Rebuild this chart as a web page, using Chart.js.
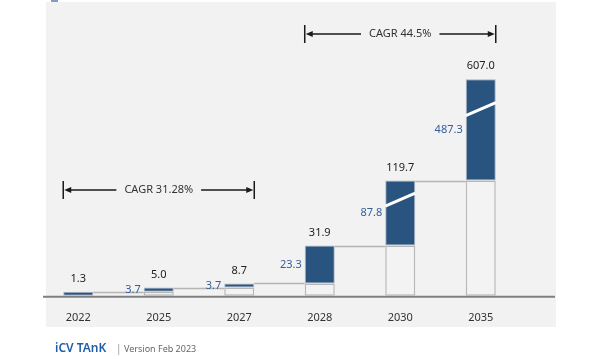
<!DOCTYPE html>
<html lang="en">
<head>
<meta charset="UTF-8">
<title>Market size waterfall</title>
<script src="https://cdn.jsdelivr.net/npm/chart.js"></script>
<style>
  body { margin: 0; background: #fff; }
  canvas { display: block; }
</style>
</head>
<body>
<canvas id="chart" width="600" height="359"></canvas>
<script>
// data
const years = ['2022', '2025', '2027', '2028', '2030', '2035'];
const totals = [1.3, 5.0, 8.7, 31.9, 119.7, 607.0];
const increments = [null, 3.7, 3.7, 23.3, 87.8, 487.3];
const cagrLabels = ['CAGR 31.28%', 'CAGR 44.5%'];
const cagrFrom = [0, 3];   // category index of the left end
const cagrTo = [2, 5];     // category index of the right end
const brokenBars = [4, 5]; // bars drawn with a scale break

// value axis with a broken (piecewise linear) scale
function toDecimal(v, breaks) {
  for (let i = 1; i < breaks.length; i++) {
    const a = breaks[i - 1], b = breaks[i];
    if (v <= b.value || i === breaks.length - 1) {
      return a.at + (v - a.value) / (b.value - a.value) * (b.at - a.at);
    }
  }
  return 0;
}
function fromDecimal(d, breaks) {
  for (let i = 1; i < breaks.length; i++) {
    const a = breaks[i - 1], b = breaks[i];
    if (d <= b.at || i === breaks.length - 1) {
      return a.value + (d - a.at) / (b.at - a.at) * (b.value - a.value);
    }
  }
  return 0;
}
class BrokenScale extends Chart.LinearScale {
  static id = 'broken';
  static defaults = Chart.LinearScale.defaults;
  getPixelForValue(value) {
    if (value === null || value === undefined || isNaN(value)) return NaN;
    return this.getPixelForDecimal(toDecimal(value, this.options.breaks));
  }
  getValueForPixel(pixel) {
    return fromDecimal(this.getDecimalForPixel(pixel), this.options.breaks);
  }
}
Chart.register(BrokenScale);

const baseData = totals.map((t, i) => i === 0 ? null : [0, totals[i - 1]]);
const stepData = totals.map((t, i) => i === 0 ? [0, t] : [totals[i - 1], t]);

const font = '"Noto Sans", "Open Sans", sans-serif';

function drawSpan(ctx, xL, xR, yMid, text) {
  ctx.save();
  ctx.font = '11px ' + font;
  const w = ctx.measureText(text).width;
  const cx = (xL + xR) / 2;
  ctx.strokeStyle = '#1a1a1a';
  ctx.fillStyle = '#1a1a1a';
  ctx.lineWidth = 1.5;
  ctx.beginPath();
  ctx.moveTo(xL, yMid - 9); ctx.lineTo(xL, yMid + 9);
  ctx.moveTo(xR, yMid - 9); ctx.lineTo(xR, yMid + 9);
  ctx.moveTo(cx - w / 2 - 8, yMid); ctx.lineTo(xL + 6, yMid);
  ctx.moveTo(cx + w / 2 + 8, yMid); ctx.lineTo(xR - 6, yMid);
  ctx.stroke();
  ctx.beginPath();
  ctx.moveTo(xL + 1, yMid); ctx.lineTo(xL + 8, yMid - 3); ctx.lineTo(xL + 8, yMid + 3); ctx.closePath();
  ctx.moveTo(xR - 1, yMid); ctx.lineTo(xR - 8, yMid - 3); ctx.lineTo(xR - 8, yMid + 3); ctx.closePath();
  ctx.fill();
  ctx.fillStyle = '#333';
  ctx.textAlign = 'center';
  ctx.textBaseline = 'middle';
  ctx.fillText(text, cx, yMid);
  ctx.restore();
}

const decorations = {
  id: 'decorations',
  beforeDraw(chart) {
    const ctx = chart.ctx;
    ctx.save();
    ctx.fillStyle = '#f2f2f2';
    ctx.fillRect(46, 2, 510, 325);
    ctx.fillStyle = '#7f9cc2';
    ctx.fillRect(51, 0, 7, 2);
    ctx.restore();
  },
  afterDatasetsDraw(chart) {
    const { ctx, chartArea, scales: { y } } = chart;
    const bars = chart.getDatasetMeta(1).data;
    ctx.save();

    // connectors between bars
    ctx.strokeStyle = '#b4b4b4';
    ctx.lineWidth = 1.5;
    ctx.beginPath();
    for (let i = 0; i < bars.length - 1; i++) {
      const py = Math.round(y.getPixelForValue(totals[i])) + 0.5;
      ctx.moveTo(bars[i].x + bars[i].width / 2, py);
      ctx.lineTo(bars[i + 1].x - bars[i + 1].width / 2, py);
    }
    ctx.stroke();

    // break slashes
    ctx.strokeStyle = '#ffffff';
    ctx.lineWidth = 3;
    brokenBars.forEach(i => {
      const b = bars[i];
      const mid = b.y + (b.base - b.y) * 0.3;
      ctx.beginPath();
      ctx.moveTo(b.x - b.width / 2, mid + 6);
      ctx.lineTo(b.x + b.width / 2, mid - 7);
      ctx.stroke();
    });

    // axis line
    ctx.strokeStyle = '#7f7f7f';
    ctx.lineWidth = 2;
    ctx.beginPath();
    ctx.moveTo(43, chartArea.bottom + 1);
    ctx.lineTo(555, chartArea.bottom + 1);
    ctx.stroke();

    // value labels
    ctx.font = '11px ' + font;
    ctx.textBaseline = 'middle';
    bars.forEach((b, i) => {
      ctx.fillStyle = '#222';
      ctx.textAlign = 'center';
      ctx.fillText(totals[i].toFixed(1), b.x, b.y - 13);
      if (increments[i] !== null) {
        ctx.fillStyle = '#35609a';
        ctx.textAlign = 'right';
        ctx.fillText(increments[i].toFixed(1), b.x - b.width / 2 - 3, (b.y + b.base) / 2);
      }
    });

    // CAGR spans
    const spanY = [190, 34];
    cagrLabels.forEach((label, k) => {
      const l = bars[cagrFrom[k]], r = bars[cagrTo[k]];
      drawSpan(ctx, l.x - l.width / 2, r.x + r.width / 2, spanY[k], label);
    });

    // footer
    ctx.textAlign = 'left';
    ctx.fillStyle = '#1d5ea8';
    ctx.font = '600 12px ' + font;
    ctx.fillText('iCV TAnK', 55, 349);
    ctx.fillStyle = '#999';
    ctx.font = '10px ' + font;
    ctx.fillText('|', 116, 349);
    ctx.fillStyle = '#666';
    ctx.font = '9px ' + font;
    ctx.fillText('Version Feb 2023', 124, 349);
    ctx.restore();
  }
};

new Chart(document.getElementById('chart'), {
  type: 'bar',
  data: {
    labels: years,
    datasets: [
      {
        label: 'base',
        data: baseData,
        backgroundColor: '#f3f3f3',
        borderColor: '#b8b8b8',
        borderWidth: 1.5,
        borderSkipped: false,
        grouped: false
      },
      {
        label: 'increase',
        data: stepData,
        backgroundColor: '#2a5480',
        borderColor: '#a9b4c0',
        borderWidth: 1,
        borderSkipped: false,
        grouped: false
      }
    ]
  },
  options: {
    responsive: false,
    animation: false,
    layout: { padding: { left: 38, right: 79, top: 20, bottom: 20 } },
    plugins: { legend: { display: false }, tooltip: { enabled: false } },
    datasets: { bar: { categoryPercentage: 1, barPercentage: 0.373 } },
    scales: {
      x: {
        grid: { display: false, drawTicks: false },
        border: { display: false },
        ticks: { color: '#333', font: { family: font, size: 11 }, padding: 15 }
      },
      y: {
        type: 'broken',
        display: false,
        min: 0,
        max: 892,
        breaks: [
          { value: 0, at: 0 },
          { value: 1.3, at: 0.015 },
          { value: 8.7, at: 0.045 },
          { value: 31.9, at: 0.182 },
          { value: 119.7, at: 0.418 },
          { value: 607, at: 0.785 },
          { value: 892, at: 1 }
        ]
      }
    }
  },
  plugins: [decorations]
});
</script>
</body>
</html>
